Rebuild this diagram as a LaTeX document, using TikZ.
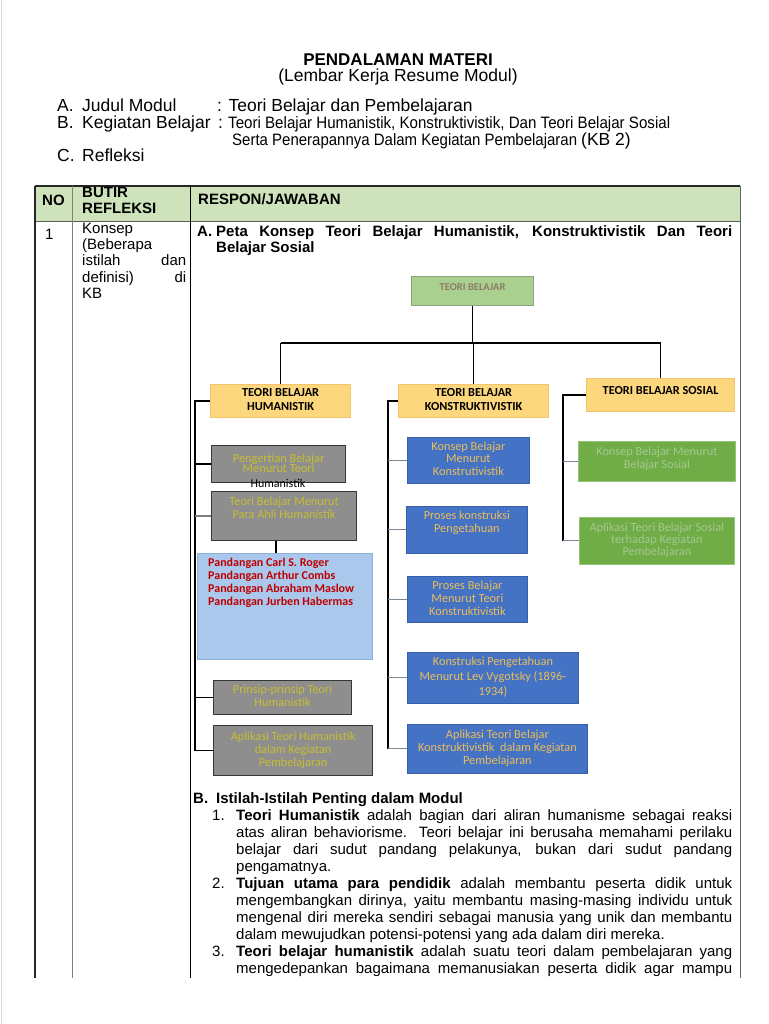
\documentclass[tikz,border=0pt]{standalone}
\usepackage{fontspec}
\setmainfont{Liberation Sans}
\newfontfamily\calfont{Carlito}
\usepackage{graphicx}
\usetikzlibrary{calc}
\definecolor{hdrgreen}{RGB}{206,227,187}
\definecolor{tbfill}{RGB}{169,208,142}
\definecolor{tbdraw}{RGB}{140,160,130}
\definecolor{tbtext}{RGB}{140,125,105}
\definecolor{yfill}{RGB}{253,215,125}
\definecolor{ydraw}{RGB}{243,196,105}
\definecolor{gfill}{RGB}{142,142,142}
\definecolor{gdraw}{RGB}{55,55,55}
\definecolor{gtext}{RGB}{200,190,50}
\definecolor{lbfill}{RGB}{170,200,236}
\definecolor{lbdraw}{RGB}{140,175,220}
\definecolor{redtext}{RGB}{192,0,0}
\definecolor{bfill}{RGB}{68,114,196}
\definecolor{bdraw}{RGB}{55,95,170}
\definecolor{btext}{RGB}{236,190,90}
\definecolor{grfill}{RGB}{112,173,71}
\definecolor{grdraw}{RGB}{150,195,120}
\definecolor{grtext}{RGB}{165,200,145}
\definecolor{subline}{RGB}{120,135,150}
\newcommand\lift[2]{\raisebox{#1}[\height][\depth]{#2}}
\newcommand\stk[2][13pt]{{\fontsize{12.3}{#1}\selectfont\begin{tabular}{@{}c@{}}#2\end{tabular}}}
\newcommand\hdrsz{\fontsize{17.5}{20}\selectfont}
\newcommand\bodysz{\fontsize{15}{17}\selectfont}
\newcommand\jl[1]{\makebox[496pt][s]{#1}}
\begin{document}
\begin{tikzpicture}[x=1pt,y=-1pt,
  txt/.style={inner sep=0pt, anchor=mid west, font=\bodysz},
  hdr/.style={inner sep=0pt, anchor=mid west, font=\hdrsz},
  box/.style={anchor=north west, inner sep=0pt, line width=1.2pt, font=\calfont},
  ybox/.style={box, fill=yfill, draw=ydraw, font=\calfont\bfseries},
  gbox/.style={box, fill=gfill, draw=gdraw, text=gtext},
  bbox/.style={box, fill=bfill, draw=bdraw, line width=0.8pt, text=btext},
  grbox/.style={box, fill=grfill, draw=grdraw, line width=0.8pt, text=grtext},
  conn/.style={line width=1.3pt, black},
  sconn/.style={line width=1.1pt, subline}]
\useasboundingbox (0,0) rectangle (768,1024);
\fill[white] (0,0) rectangle (768,1024);
\draw[gray!30, line width=0.8pt] (1.5,0) -- (1.5,1024);

% ---------- heading ----------
\node[inner sep=0pt, font=\fontsize{17}{20}\selectfont\bfseries] (title) at (398,60) {PENDALAMAN MATERI};
\node[inner sep=0pt, font=\hdrsz] (subtitle) at (398,77) {(Lembar Kerja Resume Modul)};
\node[hdr] (ia) at (57,109) {A.};
\node[hdr] (ial) at (82,109) {Judul Modul};
\node[hdr] (iav) at (217,109) {: Teori Belajar dan Pembelajaran};
\node[hdr] (ib) at (57,126) {B.};
\node[hdr] (ibl) at (82,126) {Kegiatan Belajar};
\node[hdr] (ibc) at (218,126) {:};
\node[hdr] (ibv) at (228,126) {\fontsize{16.5}{19}\selectfont\resizebox{442pt}{\height}{Teori Belajar Humanistik, Konstruktivistik, Dan Teori Belajar Sosial}};
\node[hdr] (ibw) at (232,143) {\fontsize{16.5}{19}\selectfont\resizebox{345pt}{\height}{Serta Penerapannya Dalam Kegiatan Pembelajaran}};
\node[hdr] (ibk) at (581,143) {(KB 2)};
\node[hdr] (ic) at (57,159) {C.};
\node[hdr] (icl) at (82,159) {Refleksi};

% ---------- table ----------
\fill[hdrgreen] (35,186) rectangle (740,221);
\draw[gray!70!black, line width=0.8pt] (35,221) -- (740,221);
\draw[black!85, line width=1.2pt] (35,186) -- (740,186);
\draw[black!85, line width=1.8pt] (35,186) -- (35,978);
\draw[gray, line width=0.8pt] (72,186) -- (72,978);
\draw[black, line width=1pt] (190,186) -- (190,978);
\draw[gray!80!black, line width=1pt] (740,186) -- (740,978);
\node[txt, font=\bodysz\bfseries] (hno) at (42,203) {NO};
\node[txt, font=\bodysz\bfseries] (hbut) at (82,195) {BUTIR};
\node[txt, font=\bodysz\bfseries] (href) at (82,211) {REFLEKSI};
\node[txt, font=\bodysz\bfseries] (hres) at (198,202) {RESPON/JAWABAN};
\node[txt] (rno) at (45,237) {1};
\node[txt] (r1) at (82,231) {Konsep};
\node[txt] (r2) at (82,247) {(Beberapa};
\node[txt] (r3) at (82,263) {\makebox[104pt][s]{istilah dan}};
\node[txt] (r4) at (82,280) {\makebox[104pt][s]{definisi) di}};
\node[txt] (r5) at (82,296) {KB};

\node[txt, font=\bodysz\bfseries] (sa) at (197,234) {A.};
\node[txt, font=\bodysz\bfseries] (sat) at (216,234) {\makebox[516pt][s]{Peta Konsep Teori Belajar Humanistik, Konstruktivistik Dan Teori}};
\node[txt, font=\bodysz\bfseries] (sat2) at (216,250) {Belajar Sosial};

% ---------- concept map ----------
\node[box, fill=tbfill, draw=tbdraw, minimum width=122pt, minimum height=29pt, text=tbtext, font=\calfont\bfseries\fontsize{10.5}{12}\selectfont] (tb) at (411,276) {\lift{4pt}{TEORI BELAJAR}};
\node[ybox, minimum width=140pt, minimum height=33pt] (hum) at (210,384) {\stk[14pt]{TEORI BELAJAR\\HUMANISTIK}};
\node[ybox, minimum width=150pt, minimum height=33pt] (kon) at (398,384) {\stk[14pt]{TEORI BELAJAR\\KONSTRUKTIVISTIK}};
\node[ybox, minimum width=148pt, minimum height=33pt] (sos) at (586,378) {\lift{3.5pt}{\stk{TEORI BELAJAR SOSIAL}}};

% humanistik branch
\node[gbox, minimum width=134pt, minimum height=37pt] (peng) at (211,445) {\stk[7pt]{Pengertian Belajar\\Menurut Teori}};
\node[inner sep=0pt, font=\calfont\fontsize{12}{13}\selectfont, text=black] (pengh) at (278,483) {Humanistik};
\node[gbox, minimum width=145pt, minimum height=49pt] (ahli) at (211,491) {\lift{7pt}{\stk{Teori Belajar Menurut\\Para Ahli Humanistik}}};
\node[box, fill=lbfill, draw=lbdraw, line width=0.8pt, minimum width=175pt, minimum height=106pt] (lb) at (197,553) {};
\node[anchor=north west, inner sep=0pt, text=redtext, font=\calfont\bfseries\fontsize{12}{12.9}\selectfont, align=left] (lbt) at ($(lb.north west)+(11,5)$) {Pandangan Carl S. Roger\\Pandangan Arthur Combs\\Pandangan Abraham Maslow\\Pandangan Jurben Habermas};
\node[gbox, minimum width=138pt, minimum height=34pt] (prin) at (213,680) {\stk[12pt]{Prinsip-prinsip Teori\\Humanistik}};
\node[gbox, minimum width=159pt, minimum height=50pt] (aplh) at (213,725) {\stk{Aplikasi Teori Humanistik\\dalam Kegiatan\\Pembelajaran}};

% konstruktivistik branch
\node[bbox, minimum width=122pt, minimum height=46pt] (k1) at (407,437) {\stk[12.5pt]{Konsep Belajar\\Menurut\\Konstrutivistik}};
\node[bbox, minimum width=121pt, minimum height=47pt] (k2) at (406,506) {\lift{7pt}{\stk{Proses konstruksi\\Pengetahuan}}};
\node[bbox, minimum width=120pt, minimum height=46pt] (k3) at (407,576) {\stk{Proses Belajar\\Menurut Teori\\Konstruktivistik}};
\node[bbox, minimum width=171pt, minimum height=51pt] (k4) at (407,652) {\stk[15pt]{Konstruksi Pengetahuan\\Menurut Lev Vygotsky (1896-\\1934)}};
\node[bbox, minimum width=180pt, minimum height=49pt] (k5) at (407,724) {\stk{Aplikasi Teori Belajar\\Konstruktivistik\ \ dalam Kegiatan\\Pembelajaran}};

% sosial branch
\node[grbox, minimum width=157pt, minimum height=40pt] (s1) at (578,441) {\lift{2.5pt}{\stk{Konsep Belajar Menurut\\Belajar Sosial}}};
\node[grbox, minimum width=155pt, minimum height=47pt] (s2) at (579,517) {\stk[12pt]{Aplikasi Teori Belajar Sosial\\terhadap Kegiatan\\Pembelajaran}};

% connectors
\coordinate (hy) at (0,343);
\coordinate (hs) at (195,0);
\coordinate (ks) at (388,0);
\coordinate (ss) at (563,0);
\coordinate (vx) at (276,0);
\draw[conn] (tb.south) -- (tb.south |- hy);
\draw[conn] (hum.north |- hy) -- (sos.north |- hy);
\draw[conn] (hum.north |- hy) -- (hum.north);
\draw[conn] (kon.north |- hy) -- (kon.north);
\draw[conn] (sos.north |- hy) -- (sos.north);

\draw[conn] (hum.west) -- (hum.west -| hs) -- (aplh.west -| hs) -- (aplh.west);
\draw[conn] (peng.west -| hs) -- (peng.west);
\draw[line width=1.3pt, gray] (ahli.west -| hs) -- (ahli.west);
\draw[conn] (prin.west -| hs) -- (prin.west);
\draw[conn] (ahli.south -| vx) -- (lb.north -| vx);

\draw[conn] (kon.west) -- (kon.west -| ks) -- (k5.west -| ks);
\draw[sconn] (k1.west -| ks) -- (k1.west);
\draw[sconn] (k2.west -| ks) -- (k2.west);
\draw[sconn] (k3.west -| ks) -- (k3.west);
\draw[sconn] (k4.west -| ks) -- (k4.west);
\draw[sconn] (k5.west -| ks) -- (k5.west);

\draw[conn] (sos.west) -- (sos.west -| ss) -- (s2.west -| ss);
\draw[sconn] (s1.west -| ss) -- (s1.west);
\draw[sconn] (s2.west -| ss) -- (s2.west);

% ---------- section B ----------
\node[txt, font=\bodysz\bfseries] (sb) at (193,801) {B.};
\node[txt, font=\bodysz\bfseries] (sbt) at (216,801) {Istilah-Istilah Penting dalam Modul};
\node[txt] (n1) at (212,818) {1.};
\node[txt] (l11) at (236,818) {\jl{\textbf{Teori Humanistik} adalah bagian dari aliran humanisme sebagai reaksi}};
\node[txt] (l12) at (236,835) {\jl{atas aliran behaviorisme. Teori belajar ini berusaha memahami perilaku}};
\node[txt] (l13) at (236,852) {\jl{belajar dari sudut pandang pelakunya, bukan dari sudut pandang}};
\node[txt] (l14) at (236,869) {pengamatnya.};
\node[txt] (n2) at (212,886) {2.};
\node[txt] (l21) at (236,886) {\jl{\textbf{Tujuan utama para pendidik} adalah membantu peserta didik untuk}};
\node[txt] (l22) at (236,903) {\jl{mengembangkan dirinya, yaitu membantu masing-masing individu untuk}};
\node[txt] (l23) at (236,920) {\jl{mengenal diri mereka sendiri sebagai manusia yang unik dan membantu}};
\node[txt] (l24) at (236,937) {dalam mewujudkan potensi-potensi yang ada dalam diri mereka.};
\node[txt] (n3) at (212,954) {3.};
\node[txt] (l31) at (236,954) {\jl{\textbf{Teori belajar humanistik} adalah suatu teori dalam pembelajaran yang}};
\node[txt] (l32) at (236,971) {\jl{mengedepankan bagaimana memanusiakan peserta didik agar mampu}};
\end{tikzpicture}
\end{document}
